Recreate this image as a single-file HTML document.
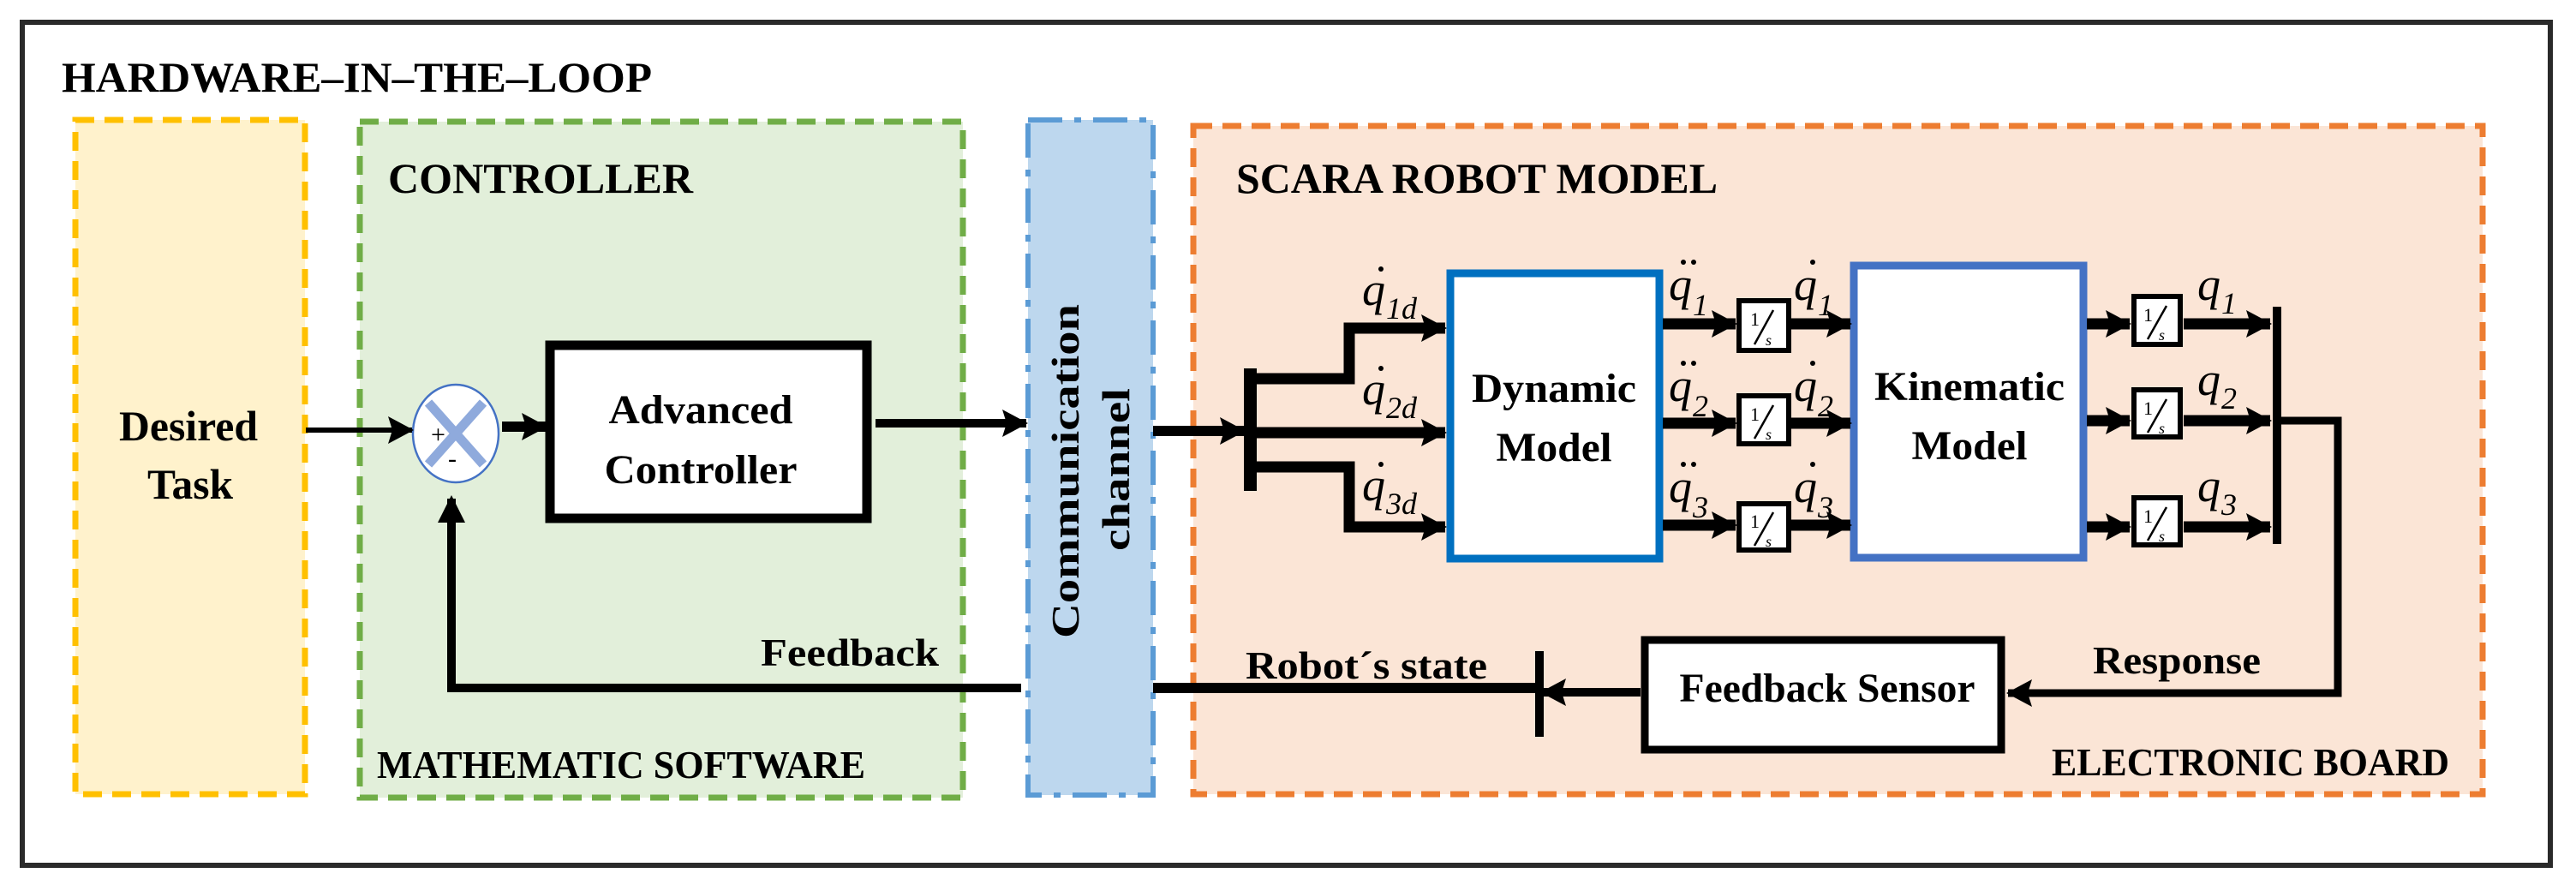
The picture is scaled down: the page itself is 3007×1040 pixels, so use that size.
<!DOCTYPE html>
<html><head><meta charset="utf-8"><style>
html,body{margin:0;padding:0;background:#fff;}
svg{display:block;}
text{font-family:"Liberation Serif",serif;}
.b{font-weight:bold;fill:#000;}
</style></head><body>
<svg width="3007" height="1040" viewBox="0 0 3007 1040" xmlns="http://www.w3.org/2000/svg">
<defs>
<marker id="ar" markerUnits="userSpaceOnUse" markerWidth="30" markerHeight="32" refX="28" refY="16" orient="auto">
<path d="M0,0 L30,16 L0,32 L5,16 Z" fill="#000"/>
</marker>
</defs>
<rect width="3007" height="1040" fill="#fff"/>
<rect x="26" y="26" width="2951" height="984" fill="none" stroke="#2a2a2a" stroke-width="6"/>
<text x="72" y="107" class="b" font-size="50" textLength="689" lengthAdjust="spacingAndGlyphs">HARDWARE–IN–THE–LOOP</text>

<rect x="88" y="140" width="268" height="787" fill="#FFF2CC" stroke="#FFC000" stroke-width="7" stroke-dasharray="22,12"/>
<text x="220" y="514" class="b" font-size="50" text-anchor="middle" textLength="162" lengthAdjust="spacingAndGlyphs">Desired</text>
<text x="222" y="582" class="b" font-size="50" text-anchor="middle" textLength="100" lengthAdjust="spacingAndGlyphs">Task</text>

<rect x="420" y="142" width="704" height="789" fill="#E2EFDA" stroke="#70AD47" stroke-width="7" stroke-dasharray="22,12"/>
<text x="453" y="225" class="b" font-size="50" textLength="356" lengthAdjust="spacingAndGlyphs">CONTROLLER</text>
<text x="440" y="908" class="b" font-size="46" textLength="570" lengthAdjust="spacingAndGlyphs">MATHEMATIC SOFTWARE</text>

<rect x="1200" y="140" width="146" height="788" fill="#BDD7EE"/>
<rect x="1200" y="140" width="146" height="788" fill="none" stroke="#5B9BD5" stroke-width="6" stroke-dasharray="40,14,8,14"/>
<text transform="translate(1259,550) rotate(-90)" class="b" font-size="46" text-anchor="middle" textLength="390" lengthAdjust="spacingAndGlyphs">Communication</text>
<text transform="translate(1318,548) rotate(-90)" class="b" font-size="46" text-anchor="middle" textLength="190" lengthAdjust="spacingAndGlyphs">channel</text>

<rect x="1393" y="147" width="1505" height="780" fill="#FBE5D6" stroke="#ED7D31" stroke-width="7" stroke-dasharray="22,12"/>
<text x="1443" y="225" class="b" font-size="50" textLength="562" lengthAdjust="spacingAndGlyphs">SCARA ROBOT MODEL</text>
<text x="2395" y="905" class="b" font-size="46" textLength="464" lengthAdjust="spacingAndGlyphs">ELECTRONIC BOARD</text>

<ellipse cx="532" cy="506" rx="50" ry="57" fill="#fff" stroke="#4472C4" stroke-width="2.5"/>
<line x1="500" y1="470" x2="564" y2="542" stroke="#8FAADC" stroke-width="11"/>
<line x1="564" y1="470" x2="500" y2="542" stroke="#8FAADC" stroke-width="11"/>
<text x="503" y="517" font-size="30" fill="#000">+</text>
<text x="523" y="545" font-size="30" fill="#000">-</text>

<line x1="357" y1="502" x2="481" y2="502" stroke="#000" stroke-width="6" marker-end="url(#ar)"/>
<line x1="586" y1="498" x2="637" y2="498" stroke="#000" stroke-width="12" marker-end="url(#ar)"/>

<rect x="642" y="403" width="370" height="202" fill="#fff" stroke="#000" stroke-width="11"/>
<text x="818" y="494" class="b" font-size="48" text-anchor="middle" textLength="215" lengthAdjust="spacingAndGlyphs">Advanced</text>
<text x="818" y="564" class="b" font-size="48" text-anchor="middle" textLength="225" lengthAdjust="spacingAndGlyphs">Controller</text>
<line x1="1022" y1="494" x2="1198" y2="494" stroke="#000" stroke-width="10" marker-end="url(#ar)"/>

<polyline points="1192,803 527,803 527,582" fill="none" stroke="#000" stroke-width="10"/>
<path d="M511,610 L527,578 L543,610 Z" fill="#000"/>
<text x="888" y="777" class="b" font-size="46" textLength="208" lengthAdjust="spacingAndGlyphs">Feedback</text>

<line x1="1346" y1="503" x2="1452" y2="503" stroke="#000" stroke-width="12" marker-end="url(#ar)"/>
<rect x="1452" y="430" width="15" height="143" fill="#000"/>
<polyline points="1467,442 1575,442 1575,383 1687,383" fill="none" stroke="#000" stroke-width="13" marker-end="url(#ar)"/>
<line x1="1467" y1="505" x2="1687" y2="505" stroke="#000" stroke-width="13" marker-end="url(#ar)"/>
<polyline points="1467,545 1575,545 1575,615 1687,615" fill="none" stroke="#000" stroke-width="13" marker-end="url(#ar)"/>

<!-- q labels with dots -->
<g fill="#000" font-style="italic">
<text x="1590" y="356" font-size="54">q</text><text x="1618" y="372" font-size="36">1d</text><circle cx="1612" cy="314" r="3"/>
<text x="1590" y="472" font-size="54">q</text><text x="1618" y="488" font-size="36">2d</text><circle cx="1612" cy="430" r="3"/>
<text x="1590" y="584" font-size="54">q</text><text x="1618" y="600" font-size="36">3d</text><circle cx="1612" cy="542" r="3"/>

<text x="1948" y="350" font-size="54">q</text><text x="1976" y="368" font-size="36">1</text><circle cx="1965" cy="306" r="3"/><circle cx="1977" cy="306" r="3"/>
<text x="1948" y="468" font-size="54">q</text><text x="1976" y="486" font-size="36">2</text><circle cx="1965" cy="424" r="3"/><circle cx="1977" cy="424" r="3"/>
<text x="1948" y="586" font-size="54">q</text><text x="1976" y="604" font-size="36">3</text><circle cx="1965" cy="542" r="3"/><circle cx="1977" cy="542" r="3"/>

<text x="2094" y="350" font-size="54">q</text><text x="2122" y="368" font-size="36">1</text><circle cx="2116" cy="306" r="3"/>
<text x="2094" y="468" font-size="54">q</text><text x="2122" y="486" font-size="36">2</text><circle cx="2116" cy="424" r="3"/>
<text x="2094" y="586" font-size="54">q</text><text x="2122" y="604" font-size="36">3</text><circle cx="2116" cy="542" r="3"/>

<text x="2565" y="350" font-size="54">q</text><text x="2593" y="366" font-size="36">1</text>
<text x="2565" y="461" font-size="54">q</text><text x="2593" y="477" font-size="36">2</text>
<text x="2565" y="585" font-size="54">q</text><text x="2593" y="601" font-size="36">3</text>
</g>

<rect x="1693" y="319" width="244" height="333" fill="#fff" stroke="#0070C0" stroke-width="9"/>
<text x="1814" y="469" class="b" font-size="48" text-anchor="middle" textLength="192" lengthAdjust="spacingAndGlyphs">Dynamic</text>
<text x="1814" y="538" class="b" font-size="48" text-anchor="middle" textLength="135" lengthAdjust="spacingAndGlyphs">Model</text>

<rect x="2164" y="310" width="268" height="341" fill="#fff" stroke="#4472C4" stroke-width="9"/>
<text x="2299" y="467" class="b" font-size="48" text-anchor="middle" textLength="222" lengthAdjust="spacingAndGlyphs">Kinematic</text>
<text x="2299" y="536" class="b" font-size="48" text-anchor="middle" textLength="135" lengthAdjust="spacingAndGlyphs">Model</text>

<g stroke="#000" stroke-width="13">
<line x1="1941" y1="378" x2="2026" y2="378" marker-end="url(#ar)"/>
<line x1="1941" y1="494" x2="2026" y2="494" marker-end="url(#ar)"/>
<line x1="1941" y1="613" x2="2026" y2="613" marker-end="url(#ar)"/>
<line x1="2090" y1="378" x2="2160" y2="378" marker-end="url(#ar)"/>
<line x1="2090" y1="494" x2="2160" y2="494" marker-end="url(#ar)"/>
<line x1="2090" y1="613" x2="2160" y2="613" marker-end="url(#ar)"/>
<line x1="2436" y1="378" x2="2486" y2="378" marker-end="url(#ar)"/>
<line x1="2436" y1="491" x2="2486" y2="491" marker-end="url(#ar)"/>
<line x1="2436" y1="615" x2="2486" y2="615" marker-end="url(#ar)"/>
<line x1="2549" y1="378" x2="2650" y2="378" marker-end="url(#ar)"/>
<line x1="2549" y1="491" x2="2650" y2="491" marker-end="url(#ar)"/>
<line x1="2549" y1="615" x2="2650" y2="615" marker-end="url(#ar)"/>
</g>

<g fill="#fff" stroke="#000" stroke-width="6">
<rect x="2030" y="351" width="58" height="58"/>
<rect x="2030" y="462" width="58" height="56"/>
<rect x="2030" y="588" width="58" height="54"/>
<rect x="2491" y="346" width="54" height="56"/>
<rect x="2491" y="455" width="54" height="55"/>
<rect x="2491" y="581" width="54" height="55"/>
</g>
<g stroke="#000" stroke-width="2.5">
<line x1="2070" y1="362" x2="2048" y2="402"/><line x1="2070" y1="473" x2="2048" y2="512"/><line x1="2070" y1="598" x2="2048" y2="637"/>
<line x1="2529" y1="357" x2="2507" y2="396"/><line x1="2529" y1="466" x2="2507" y2="505"/><line x1="2529" y1="592" x2="2507" y2="631"/>
</g>
<g font-size="22" fill="#000">
<text x="2043" y="380">1</text><text x="2061" y="403" font-style="italic" font-size="18">s</text>
<text x="2043" y="491">1</text><text x="2061" y="513" font-style="italic" font-size="18">s</text>
<text x="2043" y="616">1</text><text x="2061" y="638" font-style="italic" font-size="18">s</text>
<text x="2502" y="375">1</text><text x="2520" y="397" font-style="italic" font-size="18">s</text>
<text x="2502" y="484">1</text><text x="2520" y="506" font-style="italic" font-size="18">s</text>
<text x="2502" y="610">1</text><text x="2520" y="632" font-style="italic" font-size="18">s</text>
</g>

<rect x="2653" y="358" width="10" height="277" fill="#000"/>
<polyline points="2663,491 2729,491 2729,809 2344,809" fill="none" stroke="#000" stroke-width="9" marker-end="url(#ar)"/>
<text x="2443" y="786" class="b" font-size="46" textLength="196" lengthAdjust="spacingAndGlyphs">Response</text>

<rect x="1920" y="747" width="416" height="128" fill="#fff" stroke="#000" stroke-width="9"/>
<text x="2133" y="819" class="b" font-size="48" text-anchor="middle" textLength="345" lengthAdjust="spacingAndGlyphs">Feedback Sensor</text>
<line x1="1915" y1="808" x2="1800" y2="808" stroke="#000" stroke-width="10" marker-end="url(#ar)"/>
<rect x="1792" y="760" width="10" height="100" fill="#000"/>
<line x1="1346" y1="803" x2="1795" y2="803" stroke="#000" stroke-width="12"/>
<text x="1454" y="792" class="b" font-size="46" textLength="282" lengthAdjust="spacingAndGlyphs">Robot´s state</text>
</svg>
</body></html>
